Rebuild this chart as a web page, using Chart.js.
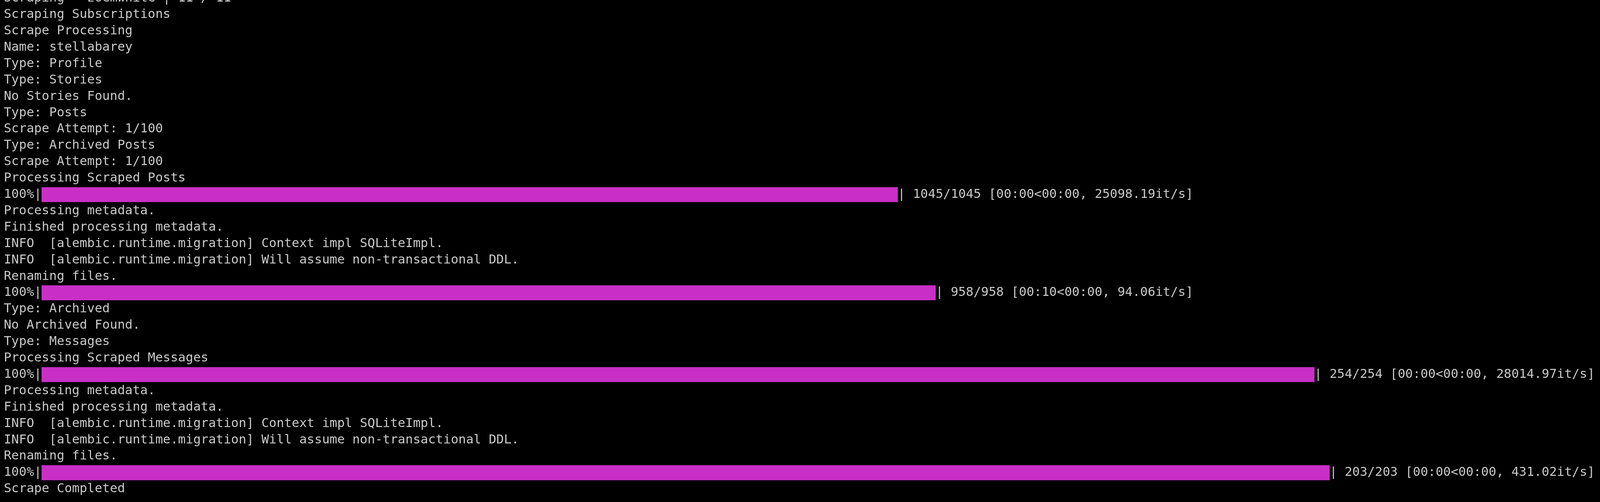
<!DOCTYPE html>
<html>
<head>
<meta charset="utf-8">
<script src="https://cdn.jsdelivr.net/npm/chart.js@4"></script>
<style>
  html, body { margin: 0; padding: 0; background: #000; overflow: hidden; }
  #wrap { width: 100vw; height: 100vh; }
</style>
</head>
<body>
<div id="wrap"><canvas id="term"></canvas></div>
<script>
// terminal lines, one per row; null where a progress bar sits
const lines = [
  'Scraping - zoemwhite | 11 / 11',
  'Scraping Subscriptions',
  'Scrape Processing',
  'Name: stellabarey',
  'Type: Profile',
  'Type: Stories',
  'No Stories Found.',
  'Type: Posts',
  'Scrape Attempt: 1/100',
  'Type: Archived Posts',
  'Scrape Attempt: 1/100',
  'Processing Scraped Posts',
  null,
  'Processing metadata.',
  'Finished processing metadata.',
  'INFO  [alembic.runtime.migration] Context impl SQLiteImpl.',
  'INFO  [alembic.runtime.migration] Will assume non-transactional DDL.',
  'Renaming files.',
  null,
  'Type: Archived',
  'No Archived Found.',
  'Type: Messages',
  'Processing Scraped Messages',
  null,
  'Processing metadata.',
  'Finished processing metadata.',
  'INFO  [alembic.runtime.migration] Context impl SQLiteImpl.',
  'INFO  [alembic.runtime.migration] Will assume non-transactional DDL.',
  'Renaming files.',
  null,
  'Scrape Completed'
];

// progress bars: row, end column, trailing stats
const barRows = [12, 18, 23, 29];
const barEnds = [118, 123, 173, 175];
const barStats = [
  '1045/1045 [00:00<00:00, 25098.19it/s]',
  '958/958 [00:10<00:00, 94.06it/s]',
  '254/254 [00:00<00:00, 28014.97it/s]',
  '203/203 [00:00<00:00, 431.02it/s]'
];
const barStart = 5;

const Y_MIN = 0.1, Y_MAX = 30.79;
const TEXT = '#c9c9c9';

const terminalText = {
  id: 'terminalText',
  beforeUpdate(chart) {
    // bar fills ~90% of a text row
    chart.data.datasets[0].barThickness = chart.height / (Y_MAX - Y_MIN) * 0.9;
  },
  afterDatasetsDraw(chart) {
    const { ctx, scales: { x, y } } = chart;
    const colPx = x.getPixelForValue(1) - x.getPixelForValue(0);
    ctx.save();
    ctx.font = (colPx / 0.602).toFixed(2) + 'px "DejaVu Sans Mono", "Liberation Mono", monospace';
    ctx.fillStyle = TEXT;
    ctx.textBaseline = 'middle';
    const x0 = x.getPixelForValue(0);
    lines.forEach((t, i) => {
      if (t !== null) ctx.fillText(t, x0, y.getPixelForValue(i));
    });
    barRows.forEach((r, i) => {
      const py = y.getPixelForValue(r);
      ctx.fillText('100%|', x0, py);
      ctx.fillText('|', x.getPixelForValue(barEnds[i]), py);
      ctx.fillText(barStats[i], x.getPixelForValue(barEnds[i] + 2), py);
    });
    ctx.restore();
  }
};

const canvas = document.getElementById('term').getContext('2d');
new Chart(canvas, {
  type: 'bar',
  data: {
    datasets: [{
      data: barRows.map((r, i) => ({ x: [barStart, barEnds[i]], y: r })),
      backgroundColor: '#c92fc7',
      borderWidth: 0,
      barThickness: 38
    }]
  },
  options: {
    indexAxis: 'y',
    responsive: true,
    maintainAspectRatio: false,
    animation: false,
    layout: { padding: 0 },
    plugins: { legend: { display: false }, tooltip: { enabled: false } },
    scales: {
      x: { type: 'linear', min: -0.5, max: 210.7, offset: false, display: false },
      y: { type: 'linear', min: Y_MIN, max: Y_MAX, reverse: true, offset: false, display: false }
    }
  },
  plugins: [terminalText]
});
</script>
</body>
</html>
